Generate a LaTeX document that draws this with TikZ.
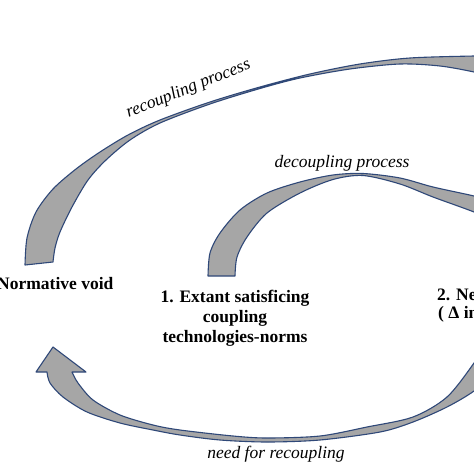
\documentclass[tikz,border=0pt]{standalone}
\usepackage{fontspec}
\setmainfont{Liberation Serif}
\definecolor{edgeblue}{RGB}{47,72,120}
\definecolor{bandgray}{RGB}{166,166,166}
\begin{document}
\begin{tikzpicture}[x=1pt,y=-1pt,
  band/.style={fill=bandgray, draw=edgeblue, line width=1.1pt, line join=round},
  steplabel/.style={font=\fontsize{17.5}{20}\selectfont\bfseries, inner sep=0pt},
  arclabel/.style={font=\fontsize{17.5}{20}\selectfont\itshape, inner sep=0pt}]
\fill[white] (0,0) rectangle (474,474);
\useasboundingbox (0,0) rectangle (474,474);
\begin{scope}
\clip (0,0) rectangle (474,474);
% outer arc: recoupling process
\draw[band] plot[smooth] coordinates {(25,265) (27,238) (36,212) (53,189) (76,169) (100,152) (128,135) (160,120) (210,102) (260,87) (310,74) (360,64) (410,58) (474,56) (495,56)}
  -- plot[smooth] coordinates {(495,78) (474,72) (440,66) (400,64) (350,69) (300,78) (260,88.5) (210,104) (160,123) (130,140) (106,160) (88,180) (72,207) (60,232) (55,248) (53,262)} -- cycle;
% inner arc: decoupling process
\draw[band] plot[smooth] coordinates {(208,276) (210,253) (220,233) (240,210) (267,193) (300,182) (333,175) (363,173.5) (400,178) (433,187) (474,196) (495,202)}
  -- plot[smooth] coordinates {(495,222) (474,212) (433,197) (400,184) (363,175.5) (333,179.5) (300,193) (267,213) (247,237) (237,257) (235,276)} -- cycle;
% bottom arrow: need for recoupling
\draw[band] (53,347) -- (86,372) -- (72,372)
  -- plot[smooth] coordinates {(72,372) (78,383) (93,400) (120,415) (153,425) (180,430) (233,436) (267,438) (320,436) (367,427) (413,417) (447,397) (474,363) (488,340)}
  -- plot[smooth] coordinates {(495,372) (474,391) (447,407) (413,422) (380,432) (320,440) (267,442) (220,440) (180,435) (153,430) (120,423) (87,412) (63,397) (50,383) (47,372)}
  -- (36,372) -- cycle;
% labels
\node[arclabel, rotate=22, anchor=base] (recoup) at (190,93) {recoupling process};
\node[arclabel, anchor=base] (decoup) at (342,167) {decoupling process};
\node[arclabel, anchor=base] (need) at (276,458) {need for recoupling};
\node[steplabel, anchor=base west] (void) at (-3,289) {Normative void};
\node[steplabel, anchor=base] (s1a) at (235,302) {1. Extant satisficing};
\node[steplabel, anchor=base] (s1b) at (235,322) {coupling};
\node[steplabel, anchor=base] (s1c) at (235,342) {technologies-norms};
\node[steplabel, anchor=base west] (s2a) at (437,300) {2. Ne};
\node[steplabel, anchor=base west] (s2b) at (438,318) {( Δ in};
\end{scope}
\end{tikzpicture}
\end{document}
